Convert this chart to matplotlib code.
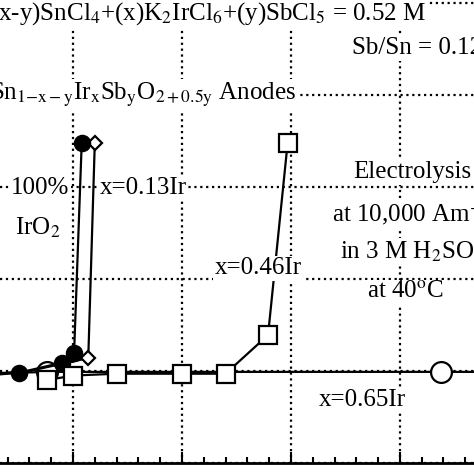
import matplotlib.pyplot as plt
from matplotlib.ticker import MultipleLocator

plt.rcParams['font.family'] = ['Liberation Serif', 'DejaVu Serif']
plt.rcParams['mathtext.fontset'] = 'stix'

# series
ir100_x = [-0.3, 0.50, 0.90, 1.01, 1.08]
ir100_y = [0.90, 0.98, 1.09, 1.20, 3.48]
ir13_x = [-0.3, 0.60, 1.14, 1.20]
ir13_y = [0.92, 1.00, 1.14, 3.48]
ir46_x = [0.76, 1.00, 1.40, 2.00, 2.40, 2.79, 2.97]
ir46_y = [0.90, 0.95, 0.97, 0.97, 0.97, 1.39, 3.48]
ir65_x = [-0.3, 0.76, 2.0, 3.0, 4.38, 4.9]
ir65_y = [0.95, 0.99, 0.99, 0.99, 0.99, 0.99]

fig = plt.figure(figsize=(4.74, 4.74), dpi=100)
ax = fig.add_axes([0, 11 / 474, 1, 1 - 11 / 474])
ax.set_xlim(0.33, 4.68)
ax.set_ylim(0, 5.03)

kw = dict(color='black', lw=1.6, mec='black', mew=1.6)
ax.plot(ir65_x, ir65_y, marker='o', ms=15, mfc='white', markevery=[1, 4], **kw, zorder=3)
ax.plot(ir13_x, ir13_y, marker='D', ms=7, mfc='white', markevery=[2, 3], **kw, zorder=4)
ax.plot(ir100_x, ir100_y, marker='o', ms=11, mfc='black', markevery=[1, 2, 3, 4], **kw, zorder=5)
ax.plot(ir46_x, ir46_y, marker='s', ms=13, mfc='white', **kw, zorder=6)

ax.xaxis.set_major_locator(MultipleLocator(1))
ax.xaxis.set_minor_locator(MultipleLocator(0.2))
ax.yaxis.set_major_locator(MultipleLocator(1))
ax.grid(True, color='black', linestyle=':', lw=1.6)
ax.tick_params(axis='x', which='both', direction='in', labelbottom=False)
ax.tick_params(axis='x', which='major', length=8, width=1.5)
ax.tick_params(axis='x', which='minor', length=4, width=1.5)
ax.tick_params(axis='y', left=False, labelleft=False)
for s in ['left', 'top', 'right']:
    ax.spines[s].set_visible(False)
ax.spines['bottom'].set_linewidth(2)

bb = dict(facecolor='white', edgecolor='none', pad=1)
fs = 18


def label(px, py, s, ha='center'):
    fig.text(px / 474, 1 - py / 474, s, fontsize=fs, ha=ha, va='center', bbox=bb)


label(-10, 14, r'-x-y)SnCl$_4$+(x)K$_2$IrCl$_6$+(y)SbCl$_5$ = 0.52 M', ha='left')
label(352, 48, 'Sb/Sn = 0.12', ha='left')
label(-10, 95, r'Sn$_{1\mathrm{-x-y}}$Ir$_\mathrm{x}$Sb$_\mathrm{y}$O$_{2+0.5\mathrm{y}}$ Anodes', ha='left')
label(40, 188, '100%')
label(38, 228, r'IrO$_2$')
label(143, 188, 'x=0.13Ir')
label(258, 268, 'x=0.46Ir')
label(412, 172, 'Electrolysis')
label(412, 213, r'at 10,000 Am$^{-2}$')
label(412, 252, r'in 3 M H$_2$SO$_4$')
label(405, 292, r'at 40$^\mathrm{o}$C')
label(362, 400, 'x=0.65Ir')

fig.savefig('out.png', dpi=100)
